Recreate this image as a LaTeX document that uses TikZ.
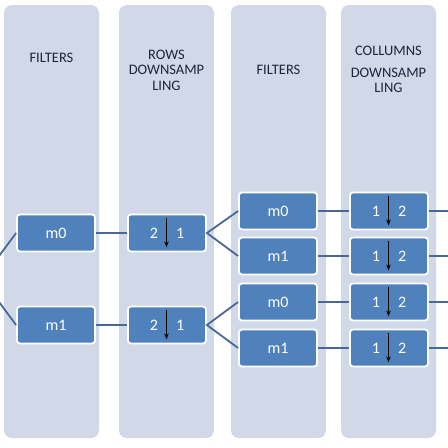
\documentclass[tikz,border=0pt]{standalone}
\usepackage{fontspec}
\setmainfont{Carlito}
\usetikzlibrary{arrows.meta}
\definecolor{colbg}{RGB}{209,217,232}
\definecolor{boxblue}{RGB}{79,129,189}
\definecolor{linkc}{RGB}{74,104,150}
\definecolor{headc}{RGB}{30,36,62}
\tikzset{
  lane/.style={fill=colbg, draw=none, rounded corners=8pt},
  blk/.style={fill=boxblue, draw=white, line width=1.8pt, rounded corners=3pt,
    minimum width=78pt, minimum height=37pt, inner sep=0pt, text=white,
    font=\fontsize{16}{18}\selectfont},
  head/.style={text=headc, align=center, font=\fontsize{14.5}{15.5}\selectfont},
  link/.style={draw=linkc, line width=1.8pt},
  dsarrow/.style={draw=black, line width=1.1pt, -{Stealth[length=6pt,width=4.5pt]}}
}
\begin{document}
\begin{tikzpicture}[x=1pt,y=-1pt]
\useasboundingbox (0,0) rectangle (448,448);
\clip (0,0) rectangle (448,448);
% lanes
\fill[lane] (4,5) rectangle (99,438);
\fill[lane] (119,5) rectangle (214,438);
\fill[lane] (231,5) rectangle (326,438);
\fill[lane] (341,5) rectangle (436,438);
% headers
\node[head] (h1) at (51.5,58) {FILTERS};
\node[head] (h2) at (166.5,70) {ROWS\\DOWNSAMP\\LING};
\node[head] (h3) at (278.5,70) {FILTERS};
\node[head] (h4a) at (388.5,51) {COLLUMNS};
\node[head] (h4b) at (388.5,80.5) {DOWNSAMP\\LING};
% offscreen sources / sinks
\coordinate (src) at (-18,279);
\coordinate (o1) at (460,211);
\coordinate (o2) at (460,256);
\coordinate (o3) at (460,302);
\coordinate (o4) at (460,348);
\coordinate (a0) at (56,233);
\coordinate (a1) at (56,325);
\coordinate (b0) at (167,233);
\coordinate (b1) at (167,325);
\foreach \y/\n in {211/1,256/2,302/3,348/4} {
  \coordinate (c\n) at (278,\y);
  \coordinate (d\n) at (389,\y);
}
% boxes
\node[blk] (A0) at (a0) {m0};
\node[blk] (A1) at (a1) {m1};
\node[blk] (B0) at (b0) {2\hspace{18pt}1};
\node[blk] (B1) at (b1) {2\hspace{18pt}1};
\node[blk] (C1) at (c1) {m0};
\node[blk] (C2) at (c2) {m1};
\node[blk] (C3) at (c3) {m0};
\node[blk] (C4) at (c4) {m1};
\node[blk] (D1) at (d1) {1\hspace{18pt}2};
\node[blk] (D2) at (d2) {1\hspace{18pt}2};
\node[blk] (D3) at (d3) {1\hspace{18pt}2};
\node[blk] (D4) at (d4) {1\hspace{18pt}2};
% connectors
\draw[link] (src) -- (A0.west);
\draw[link] (src) -- (A1.west);
\draw[link] (A0.east) -- (B0.west);
\draw[link] (A1.east) -- (B1.west);
\draw[link] (C1.west) -- (B0.east) -- (C2.west);
\draw[link] (C3.west) -- (B1.east) -- (C4.west);
\foreach \n in {1,2,3,4} {
  \draw[link] (C\n.east) -- (D\n.west);
  \draw[link] (D\n.east) -- (o\n);
}
% downsampling arrows
\foreach \n in {B0,B1,D1,D2,D3,D4} {
  \draw[dsarrow] ([yshift=-4pt,xshift=-0.5pt]\n.north) -- ([yshift=5pt,xshift=-0.5pt]\n.south);
}
\end{tikzpicture}
\end{document}
